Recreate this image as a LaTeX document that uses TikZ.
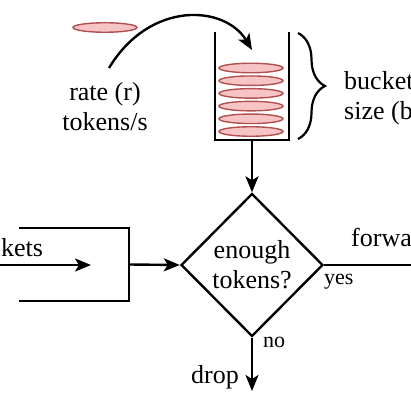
\documentclass[tikz,border=0pt]{standalone}
\usepackage{fontspec}
\setmainfont{Liberation Serif}
\usetikzlibrary{shapes.geometric,arrows.meta,decorations.pathreplacing,positioning}

\definecolor{tokenfill}{RGB}{246,196,196}
\definecolor{tokenline}{RGB}{176,80,80}

\tikzset{
    token/.style={ellipse, draw=tokenline, fill=tokenfill, line width=1.4pt,
        minimum width=64pt, minimum height=9.5pt, inner sep=0pt},
    arr/.style={-{Stealth[length=16pt,width=13pt,inset=4pt]}},
    lbl/.style={font=\fontsize{26}{30}\selectfont, inner sep=0pt},
    smalllbl/.style={font=\fontsize{22}{26}\selectfont, inner sep=0pt}
}

\begin{document}
\begin{tikzpicture}[x=1pt, y=-1pt, line width=2.4pt]
    \clip (0,0) rectangle (411,411);

    % Bucket (open at the top)
    \node[minimum width=72pt, minimum height=106pt, inner sep=0pt] (bucket) at (252,86) {};
    \draw (bucket.north west) -- (bucket.south west) -- (bucket.south east) -- (bucket.north east);

    % Tokens in the bucket
    \foreach \i in {0,...,5}
        \node[token] (tok\i) at (251,68+12.7*\i) {};

    % New token and its rate
    \node[token] (newtok) at (105,27.5) {};
    \node[lbl, align=center] (rate) at (105,107) {rate (r)\\tokens/s};
    \coordinate (tail) at (109,68);
    \coordinate (drop in) at (252,50);
    \draw[arr] (tail) .. controls (150,0) and (225,5) .. (drop in);

    % Bucket size
    \draw[decorate, decoration={brace, amplitude=27pt}, line width=2.2pt] (298,33) -- (298,139);
    \node[lbl, align=left, anchor=west] (size) at (343,98) {bucket\\size (b};

    % Decision
    \node[diamond, draw, lbl, align=center, minimum width=142pt, minimum height=143pt] (check) at (252,265) {enough\\tokens?};
    \draw[arr] (bucket.south) -- (check.north);

    % Packet queue
    \node[minimum width=108pt, minimum height=71pt, inner sep=0pt] (queue) at (74,264.5) {};
    \draw (queue.north west) -- (queue.north east) -- (queue.south east) -- (queue.south west);
    \coordinate (in) at (-5,265);
    \coordinate (in tip) at (91,265);
    \draw[arr] (in) -- (in tip);
    \node[lbl, anchor=base west] (pkts) at (0,256) {kets};
    \draw[arr] (queue.east) -- (check.west);

    % Outcomes
    \coordinate (out) at (420,265);
    \draw (check.east) -- (out);
    \node[lbl, anchor=base west] (fwd) at (350,246) {forwa};
    \node[smalllbl, anchor=base west] (yes) at (323,284) {yes};
    \coordinate (drop end) at (252,391);
    \draw[arr] (check.south) -- (drop end);
    \node[smalllbl, anchor=base west] (no) at (262,347) {no};
    \node[lbl, anchor=base east] (drop) at (240,383) {drop};
\end{tikzpicture}
\end{document}
